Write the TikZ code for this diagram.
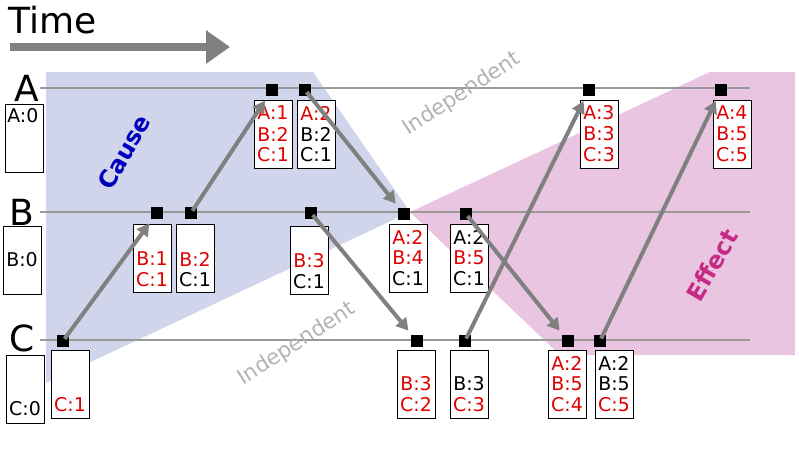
\documentclass[tikz,border=0pt]{standalone}
\usepackage{fontspec}
\setmainfont{DejaVu Sans}
\usetikzlibrary{arrows.meta}
\definecolor{rd}{HTML}{E00000}
\definecolor{causec}{HTML}{D0D5EB}
\definecolor{effc}{HTML}{E9C5E1}
\definecolor{ln}{HTML}{999999}
\begin{document}
\begin{tikzpicture}[x=0.75pt,y=-0.75pt,
  ev/.style={fill=black,minimum size=9pt,inner sep=0pt},
  box/.style={draw=black,fill=white,minimum width=28.5pt,minimum height=51pt,inner sep=0pt,anchor=north west},
  msg/.style={draw=gray,line width=3pt,-{Triangle[length=9pt,width=10pt]},shorten <=2pt,shorten >=4pt},
  t/.style={font=\fontsize{14.2}{14}\selectfont,inner sep=0pt},
  big/.style={font=\fontsize{27}{27}\selectfont,inner sep=0pt}]
\useasboundingbox (0,0) rectangle (799,452);
% regions
\fill[causec] (46,72) -- (313,72) -- (410,212) -- (46,383) -- cycle;
\fill[effc] (410,212) -- (710,72) -- (795,72) -- (795,355) -- (560,355) -- cycle;
% time
\node[big,anchor=west] (time) at (8,20) {Time};
\coordinate (t0) at (10,47); \coordinate (t1) at (230,47);
\draw[draw=gray,line width=6pt,-{Triangle[length=18pt,width=24pt]}] (t0) -- (t1);
% labels
\node[big] (LA) at (27,88) {A};
\node[big] (LB) at (22,212) {B};
\node[big] (LC) at (22,338) {C};
\coordinate (a0) at (40,88); \coordinate (a1) at (750,88);
\coordinate (b0) at (40,212); \coordinate (b1) at (750,212);
\coordinate (c0) at (40,340); \coordinate (c1) at (750,340);
\draw[ln,line width=1pt] (a0)--(a1) (b0)--(b1) (c0)--(c1);
\node[rotate=60,text=blue!75!black,font=\bfseries\fontsize{18}{18}\selectfont] (cause) at (124,152) {Cause};
\node[rotate=60,text=magenta!80!black,font=\bfseries\fontsize{18}{18}\selectfont] (eff) at (712,265) {Effect};
\node[rotate=33,text=gray!60,font=\fontsize{16}{16}\selectfont] (ind1) at (462,94) {Independent};
\node[rotate=33,text=gray!60,font=\fontsize{16}{16}\selectfont] (ind2) at (297,344) {Independent};
% A boxes
\node[box] (bA0) at (5,104) {}; \node[t,anchor=north west] at (7,108) {A:0};
\node[box] (bA1) at (254,100) {};
\node[t] at (273,113) {\textcolor{rd}{A:1}}; \node[t] at (273,134) {\textcolor{rd}{B:2}}; \node[t] at (273,155) {\textcolor{rd}{C:1}};
\node[box] (bA2) at (297,100) {};
\node[t] at (316,113) {\textcolor{rd}{A:2}}; \node[t] at (316,134) {B:2}; \node[t] at (316,155) {C:1};
\node[box] (bA3) at (580,100) {};
\node[t] at (599,113) {\textcolor{rd}{A:3}}; \node[t] at (599,134) {\textcolor{rd}{B:3}}; \node[t] at (599,155) {\textcolor{rd}{C:3}};
\node[box] (bA4) at (713,100) {};
\node[t] at (732,113) {\textcolor{rd}{A:4}}; \node[t] at (732,134) {\textcolor{rd}{B:5}}; \node[t] at (732,155) {\textcolor{rd}{C:5}};
% B boxes
\node[box] (bB0) at (3,226) {}; \node[t] at (22,260) {B:0};
\node[box] (bB1) at (133,224) {};
\node[t] at (152,259) {\textcolor{rd}{B:1}}; \node[t] at (152,280) {\textcolor{rd}{C:1}};
\node[box] (bB2) at (176,224) {};
\node[t] at (195,259) {\textcolor{rd}{B:2}}; \node[t] at (195,280) {C:1};
\node[box] (bB3) at (290,226) {};
\node[t] at (309,261) {\textcolor{rd}{B:3}}; \node[t] at (309,282) {C:1};
\node[box] (bB4) at (389,224) {};
\node[t] at (408,237) {\textcolor{rd}{A:2}}; \node[t] at (408,258) {\textcolor{rd}{B:4}}; \node[t] at (408,279) {C:1};
\node[box] (bB5) at (450,224) {};
\node[t] at (469,237) {A:2}; \node[t] at (469,258) {\textcolor{rd}{B:5}}; \node[t] at (469,279) {C:1};
% C boxes
\node[box] (bC0) at (6,355) {}; \node[t] at (25,409) {C:0};
\node[box] (bC1) at (51,350) {}; \node[t] at (70,405) {\textcolor{rd}{C:1}};
\node[box] (bC2) at (397,350) {};
\node[t] at (416,384) {\textcolor{rd}{B:3}}; \node[t] at (416,405) {\textcolor{rd}{C:2}};
\node[box] (bC3) at (450,350) {};
\node[t] at (469,384) {B:3}; \node[t] at (469,405) {\textcolor{rd}{C:3}};
\node[box] (bC4) at (548,350) {};
\node[t] at (567,363) {\textcolor{rd}{A:2}}; \node[t] at (567,384) {\textcolor{rd}{B:5}}; \node[t] at (567,405) {\textcolor{rd}{C:4}};
\node[box] (bC5) at (595,350) {};
\node[t] at (614,363) {A:2}; \node[t] at (614,384) {B:5}; \node[t] at (614,405) {\textcolor{rd}{C:5}};
% events
\foreach \n/\x/\y in {ea1/272/90,ea2/305/90,ea3/589/90,ea4/721/90,
  eb1/157/213,eb2/191/213,eb3/311/213,eb4/404/214,eb5/466/214,
  ec1/63/341,ec2/417/341,ec3/465/341,ec4/568/341,ec5/600/341}
  \node[ev] (\n) at (\x,\y) {};
% messages
\draw[msg] (ec1.center) -- (eb1);
\draw[msg] (eb2.center) -- (ea1);
\draw[msg] (ea2.center) -- (eb4);
\draw[msg] (eb3.center) -- (ec2);
\draw[msg] (ec3.center) -- (ea3);
\draw[msg] (eb5.center) -- (ec4);
\draw[msg] (ec5.center) -- (ea4);
\end{tikzpicture}
\end{document}
